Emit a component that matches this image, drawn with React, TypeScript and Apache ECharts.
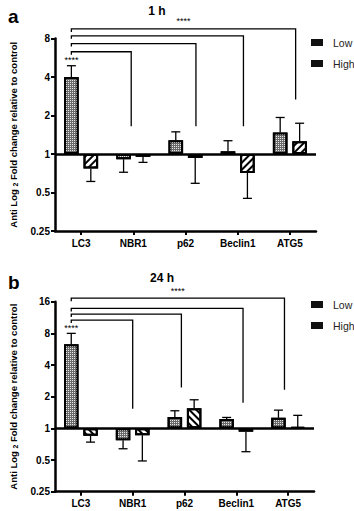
import React, { useEffect, useRef } from "react";
import * as echarts from "echarts";

const categories = ["LC3", "NBR1", "p62", "Beclin1", "ATG5"];
const yTicksA = [0.25, 0.5, 1, 2, 4, 8];
const yTicksB = [0.25, 0.5, 1, 2, 4, 8, 16];

// Panel a (1 h)
const lowA = [4.0, 0.91, 1.28, 1.05, 1.47];
const lowAErr = [4.9, 0.72, 1.49, 1.27, 1.93];
const highA = [0.77, 0.95, 0.93, 0.71, 1.26];
const highAErr = [0.61, 0.86, 0.59, 0.45, 1.74];
// Panel b (24 h)
const lowB = [6.3, 0.77, 1.28, 1.23, 1.26];
const lowBErr = [8.0, 0.64, 1.47, 1.27, 1.49];
const highB = [0.85, 0.86, 1.55, 0.93, 1.03];
const highBErr = [0.74, 0.49, 1.87, 0.6, 1.33];

const sigLow = ["****", "", "", "", ""];

// significance brackets: target category, bracket level, drop level
const bracketTargetsA = [1, 2, 3, 4];
const bracketLevelsA = [6.3, 7.3, 8.4, 9.5];
const bracketDropsA = [1.65, 1.65, 1.65, 2.67];
const bracketShiftA = [-0.04, 0.2, 0.11, 0.11];
const bracketTargetsB = [1, 2, 3, 4];
const bracketLevelsB = [10.7, 12.2, 13.8, 17.3];
const bracketDropsB = [1.54, 2.44, 1.75, 2.33];
const bracketShiftB = [0, -0.06, 0.13, -0.07];
const bracketLabel = "****";

const BAR_FRAC = 0.28;
const GAP_FRAC = 0.33;
const FONT = "'Liberation Sans', Arial, Helvetica, sans-serif";

function errRender(sign: number, labels: string[] | null) {
  return (params: any, api: any) => {
    const cat = api.value(0);
    const v = api.value(1);
    const e = api.value(2);
    const catW = api.size([1, 0])[0];
    const barW = catW * BAR_FRAC;
    const dx = (sign * barW * (1 + GAP_FRAC)) / 2;
    const p0 = api.coord([cat, v]);
    const p1 = api.coord([cat, e]);
    const x = p0[0] + dx;
    const st = { stroke: "#000", lineWidth: 1.3 };
    const children: any[] = [
      { type: "line", shape: { x1: x, y1: p0[1], x2: x, y2: p1[1] }, style: st },
      { type: "line", shape: { x1: x - 4.5, y1: p1[1], x2: x + 4.5, y2: p1[1] }, style: st },
    ];
    const lab = labels ? labels[params.dataIndex] : "";
    if (lab) {
      children.push({
        type: "text",
        x: x,
        y: p1[1] - 1,
        style: { text: lab, fontSize: 9, fontFamily: FONT, fill: "#000", align: "center", verticalAlign: "bottom" },
      });
    }
    return { type: "group", children };
  };
}

function bracketRender(count: number) {
  return (params: any, api: any) => {
    const cat = api.value(0);
    const level = api.value(1);
    const drop = api.value(2);
    const shift = api.value(3);
    const catW = api.size([1, 0])[0];
    const barW = catW * BAR_FRAC;
    const off = (barW * (1 + GAP_FRAC)) / 2;
    const pl = api.coord([0, level]);
    const pr = api.coord([cat, drop]);
    const xl = pl[0] - off;
    const xr = pr[0] + shift * catW;
    const st = { stroke: "#000", lineWidth: 1.3 };
    const children: any[] = [
      { type: "polyline", shape: { points: [[xl, pl[1] + 3], [xl, pl[1]], [xr, pl[1]], [xr, pr[1]]] }, style: { ...st, fill: null } },
    ];
    if (params.dataIndex === count - 1) {
      children.push({
        type: "text",
        x: (xl + xr) / 2,
        y: pl[1] - 3,
        style: { text: bracketLabel, fontSize: 9, fontFamily: FONT, fill: "#000", align: "center", verticalAlign: "bottom" },
      });
    }
    return { type: "group", children };
  };
}

const lowDecal = {
  symbol: "rect",
  symbolSize: 1,
  color: "#e8e8e8",
  dashArrayX: [1, 1],
  dashArrayY: [1, 1],
  rotation: 0,
};
function stripeDecal(rot: number) {
  return {
    symbol: "rect",
    symbolSize: 1,
    color: "#000",
    dashArrayX: [1, 0],
    dashArrayY: [1.6, 2.2],
    rotation: rot,
  };
}

function panelSeries(idx: number, low: number[], lowErr: number[], high: number[], highErr: number[], targets: number[], levels: number[], drops: number[], shifts: number[], rot: number) {
  return [
    {
      type: "bar",
      name: "Low",
      xAxisIndex: idx,
      yAxisIndex: idx,
      data: low,
      barWidth: BAR_FRAC * 100 + "%",
      barGap: GAP_FRAC * 100 + "%",
      itemStyle: { color: "#6a6a6a", borderColor: "#000", borderWidth: 2, decal: lowDecal },
      markLine: {
        silent: true,
        symbol: "none",
        label: { show: false },
        lineStyle: { color: "#000", width: 2.5, type: "solid" },
        data: [{ yAxis: 1 }],
        z: 5,
      },
    },
    {
      type: "bar",
      name: "High",
      xAxisIndex: idx,
      yAxisIndex: idx,
      data: high,
      barWidth: BAR_FRAC * 100 + "%",
      barGap: GAP_FRAC * 100 + "%",
      itemStyle: { color: "#fff", borderColor: "#000", borderWidth: 2, decal: stripeDecal(rot) },
    },
    {
      type: "custom",
      xAxisIndex: idx,
      yAxisIndex: idx,
      renderItem: errRender(-1, sigLow),
      encode: { x: 0, y: 1 },
      data: low.map((v, i) => [i, v, lowErr[i]]),
      z: 3,
    },
    {
      type: "custom",
      xAxisIndex: idx,
      yAxisIndex: idx,
      renderItem: errRender(1, null),
      encode: { x: 0, y: 1 },
      data: high.map((v, i) => [i, v, highErr[i]]),
      z: 3,
    },
    {
      type: "custom",
      xAxisIndex: idx,
      yAxisIndex: idx,
      renderItem: bracketRender(targets.length),
      encode: { x: 0, y: 1 },
      data: targets.map((t, i) => [t, levels[i], drops[i], shifts[i]]),
      z: 3,
    },
  ];
}

function yAxis(idx: number, max: number, ticks: number[]) {
  return {
    type: "log",
    logBase: 2,
    gridIndex: idx,
    min: ticks[0],
    max: max,
    interval: 1,
    splitLine: { show: false },
    axisLine: { show: true, lineStyle: { color: "#000", width: 2.5 } },
    axisTick: { show: true, length: 4, lineStyle: { color: "#000", width: 2 } },
    axisLabel: {
      color: "#000",
      fontSize: 10,
      fontWeight: "bold",
      fontFamily: FONT,
      margin: 5,
      formatter: (v: number) => String(+v.toPrecision(3)),
    },
    name: "{a|Anti Log }{s|2}{a| Fold change relative to control}",
    nameLocation: "middle",
    nameRotate: 90,
    nameGap: 36,
    nameTextStyle: {
      rich: {
        a: { fontSize: 9.5, fontWeight: "bold", fontFamily: FONT, color: "#000" },
        s: { fontSize: 7, fontWeight: "bold", fontFamily: FONT, color: "#000", padding: [5, 0, 0, 0] },
      },
    },
  };
}

function xAxis(idx: number) {
  return {
    type: "category",
    gridIndex: idx,
    data: categories,
    position: "bottom",
    axisLine: { show: true, onZero: false, lineStyle: { color: "#000", width: 2.5 } },
    axisTick: { show: true, alignWithLabel: true, length: 4, lineStyle: { color: "#000", width: 2 } },
    axisLabel: { color: "#000", fontSize: 10, fontWeight: "bold", fontFamily: FONT, margin: 7 },
  };
}

function legend(top: number) {
  return {
    left: 311,
    top: top,
    orient: "vertical",
    itemWidth: 12,
    itemHeight: 7,
    itemGap: 10,
    icon: "rect",
    padding: 0,
    data: ["Low", "High"],
    itemStyle: { color: "#111", borderWidth: 0, decal: "none" },
    textStyle: { fontSize: 10.5, fontFamily: FONT, color: "#222", padding: [0, 0, 0, 5] },
  };
}

export default function App() {
  const ref = useRef<HTMLDivElement>(null);
  useEffect(() => {
    document.body.style.margin = "0";
    if (!ref.current) return;
    const chart = echarts.init(ref.current, null, { renderer: "svg" });
    const titleStyle = { fontFamily: FONT, fontWeight: "bold", color: "#000" };
    chart.setOption({
      animation: false,
      backgroundColor: "#fff",
      title: [
        { text: "a", left: 3, top: 2, textStyle: { ...titleStyle, fontSize: 19 } },
        { text: "1 h", left: 152, top: 0, textAlign: "center", textStyle: { ...titleStyle, fontSize: 12 } },
        { text: "b", left: 3, top: 268, textStyle: { ...titleStyle, fontSize: 19 } },
        { text: "24 h", left: 157, top: 267, textAlign: "center", textStyle: { ...titleStyle, fontSize: 12 } },
      ],
      legend: [legend(37), legend(299)],
      grid: [
        { left: 46, top: 38.5, width: 270, height: 192.5 },
        { left: 46, top: 301.7, width: 268, height: 190 },
      ],
      xAxis: [xAxis(0), xAxis(1)],
      yAxis: [yAxis(0, 8, yTicksA), yAxis(1, 16, yTicksB)],
      series: [
        ...panelSeries(0, lowA, lowAErr, highA, highAErr, bracketTargetsA, bracketLevelsA, bracketDropsA, bracketShiftA, -Math.PI / 4),
        ...panelSeries(1, lowB, lowBErr, highB, highBErr, bracketTargetsB, bracketLevelsB, bracketDropsB, bracketShiftB, Math.PI / 4),
      ],
    });
    return () => chart.dispose();
  }, []);
  return <div ref={ref} style={{ width: 354, height: 511 }} />;
}
